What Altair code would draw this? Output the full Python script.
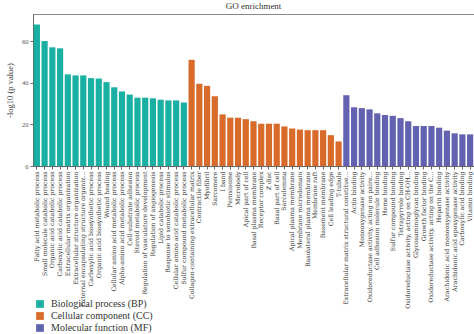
import altair as alt
import pandas as pd

bp_terms = [
    "Fatty acid metabolic process", "Small molecule catabolic process",
    "Organic acid catabolic process", "Carboxylic acid catabolic process",
    "Extracellular matrix organization", "Extracellular structure organization",
    "External encapsulating structure organiz...", "Carboxylic acid biosynthetic process",
    "Organic acid biosynthetic process", "Wound healing",
    "Cellular amino acid metabolic process", "Alpha-amino acid metabolic process",
    "Cell-substrate adhesion", "Steroid metabolic process",
    "Regulation of vasculature development", "Regulation of angiogenesis",
    "Lipid catabolic process", "Response to xenobiotic stimulus",
    "Cellular amino acid catabolic process", "Sulfur compound metabolic process",
]
bp_values = [68, 60, 57, 56.5, 44, 43.5, 43.5, 42.2, 42, 40.3, 37.8, 35.8, 34.3,
             32.8, 32.8, 32.5, 31.8, 31.5, 31.5, 30.5]

cc_terms = [
    "Collagen-containing extracellular matrix", "Contractile fiber", "Myofibril",
    "Sarcomere", "I band", "Peroxisome", "Microbody", "Apical part of cell",
    "Basal plasma membrane", "Receptor complex", "Z disc", "Basal part of cell",
    "Sarcolemma", "Apical plasma membrane", "Membrane microdomain",
    "Basolateral plasma membrane", "Membrane raft", "Basement membrane",
    "Cell leading edge", "T-tubule",
]
cc_values = [51, 39.5, 38.5, 33.5, 24.8, 23.2, 23.2, 22.5, 21.5, 20.3, 20.3, 20.3,
             19, 18, 17.5, 17.2, 17.2, 17.2, 14.8, 11.8]

mf_terms = [
    "Extracellular matrix structural constitue...", "Actin binding",
    "Monooxygenase activity", "Oxidoreductase activity, acting on paire...",
    "Cell adhesion molecule binding", "Heme binding", "Sulfur compound binding",
    "Tetrapyrrole binding", "Oxidoreductase activity, acting on CH-OH...",
    "Glycosaminoglycan binding", "Growth factor binding",
    "Oxidoreductase activity, acting on the C...", "Heparin binding",
    "Arachidonic acid monooxygenase activity", "Arachidonic acid epoxygenase activity",
    "Carboxylic acid binding", "Vitamin binding",
]
mf_values = [34, 28.2, 27.8, 27.2, 25.3, 24.5, 24.1, 23, 21.5, 19.2, 19.2, 19.2,
             18.4, 17, 15.7, 15.2, 15.2]

categories = ["Biological process (BP)", "Cellular component (CC)", "Molecular function (MF)"]
colors = ["#19B0A3", "#D86A2A", "#6362B0"]

rows = []
for cat, terms, vals in zip(categories, [bp_terms, cc_terms, mf_terms],
                            [bp_values, cc_values, mf_values]):
    for t, v in zip(terms, vals):
        rows.append({"term": t, "value": v, "category": cat})
df = pd.DataFrame(rows)
order = list(df["term"])

font = "Liberation Serif"

chart = alt.Chart(df).mark_bar().encode(
    x=alt.X("term:N", sort=order,
            scale=alt.Scale(paddingInner=0.2, paddingOuter=0.1),
            axis=alt.Axis(title=None, labelAngle=-90, labelFontSize=6.2,
                          labelFont="DejaVu Serif", labelColor="#333", labelLimit=200,
                          tickSize=3, tickColor="#666", domainColor="#666",
                          labelPadding=2)),
    y=alt.Y("value:Q", scale=alt.Scale(domain=[0, 73], nice=False),
            axis=alt.Axis(title="-log10 (p value)", values=[0, 20, 40, 60],
                          grid=False, labelFontSize=6.5, labelFont=font,
                          labelColor="#555", titleFont=font, titleFontSize=8.5,
                          titleFontWeight="normal", titleColor="#333",
                          tickSize=3, tickColor="#666", domainColor="#666",
                          titlePadding=7)),
    color=alt.Color("category:N", scale=alt.Scale(domain=categories, range=colors),
                    legend=alt.Legend(title=None, orient="none", legendX=2,
                                      legendY=285, symbolType="square",
                                      symbolSize=60, labelFont=font,
                                      labelFontSize=10, labelColor="#333",
                                      rowPadding=2, symbolStrokeWidth=0,
                                      labelOffset=6)),
).properties(
    width=441, height=152,
    title=alt.TitleParams("GO enrichment", font=font, fontSize=9,
                          fontWeight="normal", color="#333", offset=3),
    autosize="none",
    padding={"left": 33, "top": 14, "right": 0, "bottom": 168},
).configure_view(stroke="#888", strokeWidth=1).configure_legend(labelFont=font)

chart.save("out.html", embed_options={"renderer": "svg", "actions": False})
